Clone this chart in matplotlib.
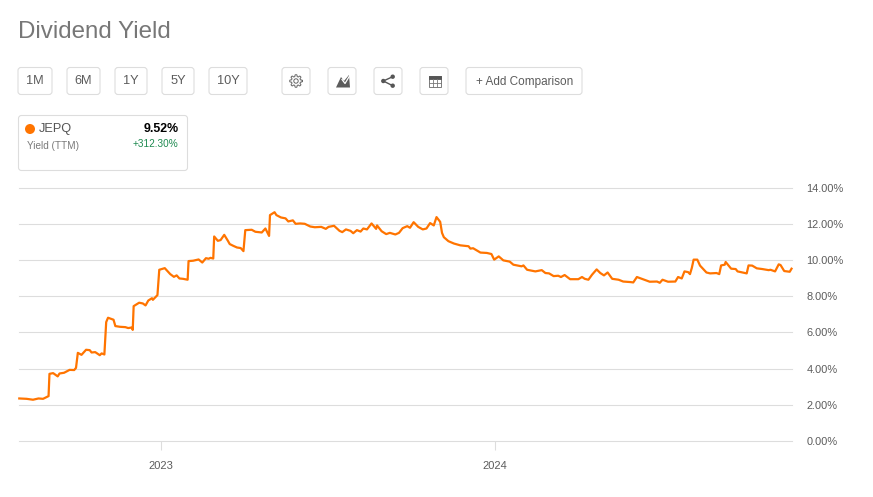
import numpy as np
import pandas as pd
import matplotlib
matplotlib.use("Agg")
import matplotlib.pyplot as plt
import matplotlib.dates as mdates
from matplotlib.patches import FancyBboxPatch, Circle, Rectangle, Polygon

# days counted from 2023-01-01
days = [-155, -147, -140, -134, -129, -123, -122, -118, -113, -111, -106, -100, -95, -93, -91, -87,
        -82, -78, -76, -72, -67, -65, -62, -60, -58, -52, -50, -45, -39, -36, -32, -31, -30, -24, -20,
        -17, -14, -10, -9, -4, -2, 4, 10, 14, 17, 20, 24, 29, 30, 35, 41, 45, 49, 52, 54, 57, 58, 62,
        65, 69, 73, 75, 79, 83, 87, 90, 92, 99, 103, 110, 114, 118, 119, 124, 126, 131, 136, 139, 144,
        147, 152, 157, 163, 168, 175, 180, 183, 189, 195, 198, 202, 207, 210, 214, 218, 221, 225, 230,
        235, 236, 241, 246, 250, 256, 260, 264, 269, 272, 276, 281, 286, 290, 294, 298, 301, 305, 307,
        309, 314, 320, 327, 336, 338, 341, 349, 356, 361, 364, 369, 374, 381, 385, 394, 396, 400, 409,
        416, 420, 424, 429, 434, 437, 441, 447, 456, 460, 463, 467, 471, 476, 480, 484, 488, 493, 500,
        505, 513, 516, 520, 527, 534, 542, 545, 548, 554, 562, 565, 569, 572, 576, 578, 580, 582, 586,
        589, 596, 600, 607, 610, 612, 616, 617, 623, 628, 630, 640, 642, 646, 651, 657, 664, 666, 671,
        675, 677, 681, 687, 689]
yields = [2.35, 2.33, 2.28, 2.35, 2.33, 2.48, 3.71, 3.75, 3.57, 3.73, 3.77, 3.93, 3.92, 4.04, 4.87, 4.76,
          5.04, 5.02, 4.89, 4.91, 4.74, 4.84, 4.78, 6.57, 6.81, 6.70, 6.35, 6.31, 6.29, 6.24, 6.27, 6.14, 7.45, 7.64, 7.60,
          7.49, 7.76, 7.89, 7.80, 8.06, 9.46, 9.55, 9.22, 9.07, 9.15, 8.98, 8.96, 8.91, 9.94, 9.96, 10.03, 9.86, 10.10, 10.07, 10.12, 10.08, 11.30, 11.06,
          11.10, 11.39, 11.06, 10.88, 10.78, 10.69, 10.66, 10.49, 11.65, 11.67, 11.56, 11.52, 11.74, 11.33, 12.48, 12.64, 12.48, 12.35, 12.30, 12.13, 12.19,
          12.00, 12.02, 12.00, 11.85, 11.81, 11.83, 11.72, 11.83, 11.89, 11.61, 11.54, 11.69, 11.61, 11.48, 11.65, 11.57, 11.74, 11.69, 12.02,
          11.72, 11.91, 11.59, 11.43, 11.50, 11.41, 11.50, 11.76, 11.87, 11.78, 12.09, 11.83, 11.69, 11.74, 12.04, 11.91, 12.37, 12.11, 11.50,
          11.26, 11.04, 10.91, 10.81, 10.76, 10.63, 10.65, 10.41, 10.39, 10.33, 10.02, 10.20, 9.98, 9.91, 9.74, 9.65, 9.70, 9.46, 9.37,
          9.44, 9.28, 9.26, 9.11, 9.13, 9.06, 9.17, 8.94, 8.94, 9.06, 8.96, 8.91, 9.19, 9.48, 9.28, 9.15, 9.31, 8.96, 8.91,
          8.81, 8.78, 8.76, 9.06, 8.93, 8.80, 8.81, 8.74, 8.91, 8.80, 8.81, 9.06, 8.98, 9.37, 9.33, 9.22, 9.56, 10.02, 10.02,
          9.69, 9.31, 9.26, 9.28, 9.22, 9.70, 9.74, 9.89, 9.52, 9.50, 9.37, 9.26, 9.70, 9.69, 9.54, 9.50, 9.44, 9.46, 9.37,
          9.76, 9.72, 9.39, 9.35, 9.52]
yticks = [0, 2, 4, 6, 8, 10, 12, 14]
period_labels = ["1M", "6M", "1Y", "5Y", "10Y"]

W, H = 873, 497
FONT = "Liberation Sans"
plt.rcParams["font.family"] = FONT

dates = pd.Timestamp("2023-01-01") + pd.to_timedelta(days, unit="D")

fig = plt.figure(figsize=(W / 100, H / 100), dpi=100, facecolor="white")

# overlay in pixel coordinates for the page furniture
ui = fig.add_axes([0, 0, 1, 1])
ui.set_xlim(0, W)
ui.set_ylim(H, 0)
ui.axis("off")


def box(x0, x1, y0, y1, edge="#dddddd"):
    ui.add_patch(FancyBboxPatch((x0 + 3, y0 + 3), x1 - x0 - 6, y1 - y0 - 6, boxstyle="round,pad=3,rounding_size=3",
                                fc="white", ec=edge, lw=0.8))


ui.text(18, 32, "Dividend Yield", fontsize=17.4, color="#777777", va="center")

button_x = [(18, 52), (67, 100), (115, 147), (162, 194), (209, 247)]
for (x0, x1), label in zip(button_x, period_labels):
    box(x0, x1, 67.5, 94.5)
    ui.text((x0 + x1) / 2, 81, label, fontsize=9.2, color="#5c5c5c", ha="center", va="center")

for x0, x1 in [(282, 310), (328, 356), (374, 402), (420, 448), (466, 582)]:
    box(x0, x1, 67.5, 94.5)
ui.text(524.5, 81.5, "+ Add Comparison", fontsize=8.5, color="#5c5c5c", ha="center", va="center")

# gear icon
ang = np.linspace(0, 2 * np.pi, 145)
rad = 5.4 + 0.9 * np.tanh(3 * np.cos(8 * ang))
ui.plot(296 + rad * np.cos(ang), 81 + rad * np.sin(ang), color="#666666", lw=0.7)
ui.add_patch(Circle((296, 81), 2.2, fc="none", ec="#666666", lw=0.7))

# area chart icon
ui.add_patch(Polygon([(336, 87.5), (341, 77), (344, 81), (349, 75), (350, 87.5)], fc="#5c5c5c", ec="none"))
ui.plot([342, 345, 349.5], [79.5, 83.5, 76], color="white", lw=0.9)

# share icon
ui.plot([392.7, 383.3, 392.7], [76.7, 81, 85.7], color="#555555", lw=1)
for cx, cy in [(392.7, 76.7), (383.3, 81), (392.7, 85.7)]:
    ui.add_patch(Circle((cx, cy), 2.2, fc="#555555", ec="none"))

# table icon
ui.add_patch(Rectangle((428.5, 75.5), 12, 11, fc="white", ec="#666666", lw=0.6))
ui.add_patch(Rectangle((428.5, 75.5), 12, 3.5, fc="#555555", ec="#555555", lw=0.6))
ui.plot([432.5, 432.5], [79, 86.5], color="#777777", lw=0.6)
ui.plot([436.5, 436.5], [79, 86.5], color="#777777", lw=0.6)
ui.plot([428.5, 440.5], [82.7, 82.7], color="#777777", lw=0.6)

# legend card
box(18.5, 187.5, 115.5, 170.5)
ui.add_patch(Circle((30, 129), 5, fc="#ff7400", ec="none"))
ui.text(39, 129, "JEPQ", fontsize=9.2, color="#555555", va="center")
ui.text(178.5, 129, "9.52%", fontsize=8.9, color="black", weight="bold", ha="right", va="center")
ui.text(27, 146, "Yield (TTM)", fontsize=7.2, color="#7a7a7a", va="center")
ui.text(178.5, 144, "+312.30%", fontsize=7.2, color="#1e8a50", ha="right", va="center")

# chart
left, right, top, bottom = 19, 792, 187.6, 441
ax = fig.add_axes([left / W, 1 - bottom / H, (right - left) / W, (bottom - top) / H])
ax.patch.set_alpha(0)
ax.plot(dates, yields, color="#ff7400", lw=1.6, solid_joinstyle="round", zorder=3, clip_on=False)
ax.set_ylim(0, 14)
ax.set_xlim(pd.Timestamp("2023-01-01") + pd.Timedelta(days=-155.3), pd.Timestamp("2023-01-01") + pd.Timedelta(days=689.5))
ax.set_yticks(yticks)
ax.set_yticklabels(["%.2f%%" % v for v in yticks])
ax.yaxis.tick_right()
ax.xaxis.set_major_locator(mdates.YearLocator())
ax.xaxis.set_major_formatter(mdates.DateFormatter("%Y"))
ax.grid(axis="y", color="#dddddd", lw=0.8)
for g in ax.yaxis.get_gridlines():
    g.set_clip_on(False)
ax.set_axisbelow(True)
ax.tick_params(axis="y", length=0, pad=10.5, labelsize=7.95, labelcolor="#5c5c5c")
ax.tick_params(axis="x", length=6.5, width=0.8, color="#dddddd", pad=8, labelsize=8, labelcolor="#5c5c5c")
for s in ax.spines.values():
    s.set_visible(False)
for lab in ax.get_yticklabels():
    lab.set_y(lab.get_position()[1])

fig.savefig("out.png", dpi=100)
